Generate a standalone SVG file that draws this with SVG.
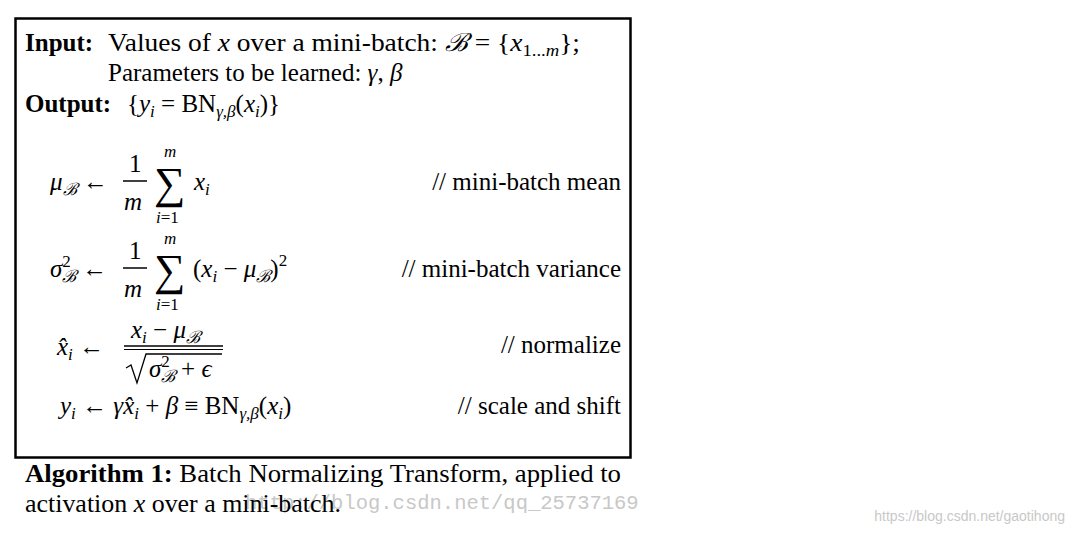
<svg xmlns="http://www.w3.org/2000/svg" width="1074" height="534" viewBox="0 0 1074 534">
<style>
text{font-family:"Liberation Serif","DejaVu Serif",serif;font-size:25px;fill:#000}
.b{font-weight:bold}
.i{font-style:italic}
.s{font-size:17px}
.c{text-anchor:end}
.sum{font-size:44px}
.wm{fill:#c8c8c8}
</style>
<rect width="1074" height="534" fill="#fff"/>
<g id="box"><rect x="15.5" y="18.5" width="615" height="439" fill="none" stroke="#000" stroke-width="2.5"/></g>
<g id="header">
<text x="25" y="51" class="b">Input:</text>
<text x="108" y="51" textLength="472" lengthAdjust="spacingAndGlyphs">Values of <tspan class="i">x</tspan> over a mini-batch: <tspan class="i">ℬ</tspan> = {<tspan class="i">x</tspan><tspan class="s" dy="5">1...</tspan><tspan class="s i">m</tspan><tspan dy="-5">};</tspan></text>
<text x="108" y="81">Parameters to be learned: <tspan class="i">γ</tspan>, <tspan class="i">β</tspan></text>
<text x="25" y="112" class="b">Output:</text>
<text x="127" y="112">{<tspan class="i">y</tspan><tspan class="s i" dy="5">i</tspan><tspan dy="-5"> = BN</tspan><tspan class="s i" dy="5">γ,β</tspan><tspan dy="-5">(</tspan><tspan class="i">x</tspan><tspan class="s i" dy="5">i</tspan><tspan dy="-5">)}</tspan></text>
</g>
<g id="eq1">
<text x="50" y="190"><tspan class="i">μ</tspan><tspan class="s i" dy="5">ℬ</tspan><tspan dy="-5"> ←</tspan></text>
<text x="129" y="172">1</text><line x1="123" y1="181" x2="147" y2="181" stroke="#000" stroke-width="1.5"/><text x="124" y="210" class="i">m</text>
<text x="164" y="157" class="s i">m</text><text x="154" y="198" class="sum">∑</text><text x="156" y="223" class="s"><tspan class="i">i</tspan>=1</text>
<text x="194" y="190" class="i">x<tspan class="s" dy="5">i</tspan></text>
<text x="621" y="190" class="c">// mini-batch mean</text>
</g>
<g id="eq2">
<text x="50" y="277"><tspan class="i">σ</tspan><tspan class="s" dy="-10">2</tspan><tspan class="s i" dx="-9" dy="15">ℬ</tspan><tspan dy="-5"> ←</tspan></text>
<text x="129" y="259">1</text><line x1="123" y1="268" x2="147" y2="268" stroke="#000" stroke-width="1.5"/><text x="124" y="297" class="i">m</text>
<text x="164" y="244" class="s i">m</text><text x="154" y="285" class="sum">∑</text><text x="156" y="310" class="s"><tspan class="i">i</tspan>=1</text>
<text x="193" y="277">(<tspan class="i">x</tspan><tspan class="s i" dy="5">i</tspan><tspan dy="-5"> − </tspan><tspan class="i">μ</tspan><tspan class="s i" dy="5">ℬ</tspan><tspan dy="-5">)</tspan><tspan class="s" dy="-11">2</tspan></text>
<text x="621" y="277" class="c">// mini-batch variance</text>
</g>
<g id="eq3">
<text x="57" y="355"><tspan class="i">x̂</tspan><tspan class="s i" dy="5">i</tspan><tspan dy="-5"> ←</tspan></text>
<text x="131" y="338"><tspan class="i">x</tspan><tspan class="s i" dy="5">i</tspan><tspan dy="-5"> − </tspan><tspan class="i">μ</tspan><tspan class="s i" dy="5">ℬ</tspan></text>
<line x1="124" y1="346" x2="223" y2="346" stroke="#000" stroke-width="1.5"/>
<line x1="124" y1="349.5" x2="223" y2="349.5" stroke="#000" stroke-width="1"/>
<path d="M126 368 L131 365 L137 383 L146 354 L222 354" fill="none" stroke="#000" stroke-width="1.3"/>
<text x="149" y="377"><tspan class="i">σ</tspan><tspan class="s" dy="-10">2</tspan><tspan class="s i" dx="-9" dy="15">ℬ</tspan><tspan dy="-5"> + </tspan><tspan class="i">ϵ</tspan></text>
<text x="621" y="353" class="c">// normalize</text>
</g>
<g id="eq4">
<text x="60" y="414"><tspan class="i">y</tspan><tspan class="s i" dy="5">i</tspan><tspan dy="-5"> ← </tspan><tspan class="i">γx̂</tspan><tspan class="s i" dy="5">i</tspan><tspan dy="-5"> + </tspan><tspan class="i">β</tspan> ≡ BN<tspan class="s i" dy="5">γ,β</tspan><tspan dy="-5">(</tspan><tspan class="i">x</tspan><tspan class="s i" dy="5">i</tspan><tspan dy="-5">)</tspan></text>
<text x="621" y="414" class="c">// scale and shift</text>
</g>
<g id="caption">
<text x="25" y="482" textLength="596" lengthAdjust="spacingAndGlyphs"><tspan class="b">Algorithm 1:</tspan> Batch Normalizing Transform, applied to</text>
<text x="245" y="509" class="wm" style="font-family:'Liberation Mono',monospace;font-size:20.5px">http://blog.csdn.net/qq_25737169</text>
<text x="25" y="512" textLength="316" lengthAdjust="spacingAndGlyphs">activation <tspan class="i">x</tspan> over a mini-batch.</text>
<text x="1065" y="521" class="wm c" style="font-family:'Liberation Sans',sans-serif;font-size:14px">https://blog.csdn.net/gaotihong</text>
</g>
</svg>
